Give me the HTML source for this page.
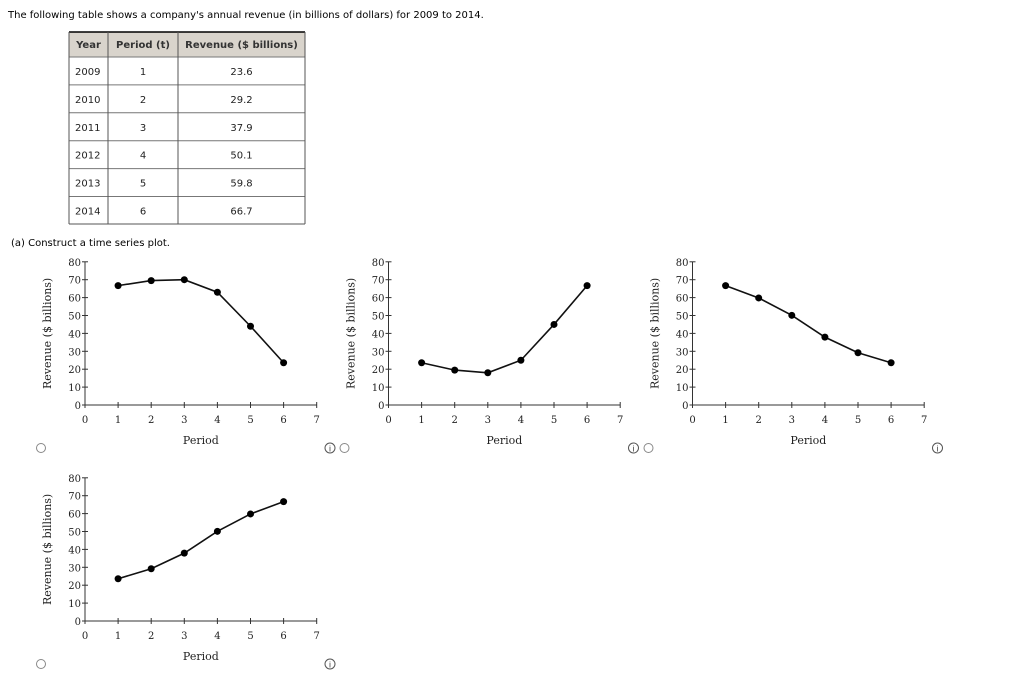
<!DOCTYPE html>
<html><head><meta charset="utf-8"><style>
body{margin:0;width:1024px;height:685px;background:#fff;overflow:hidden;font-family:Verdana,"DejaVu Sans",sans-serif;}
svg{position:absolute;left:0;top:0}
</style></head><body>
<svg id="s" width="1024" height="685" font-family="'DejaVu Sans',Verdana,sans-serif">
<text x="8" y="18" font-size="10" fill="#000">The following table shows a company's annual revenue (in billions of dollars) for 2009 to 2014.</text>
<g id="tbl"></g>
<text x="11" y="246" font-size="10">(a)  Construct a time series plot.</text>
<g id="charts"></g>
</svg>
<script>
const years=["2009","2010","2011","2012","2013","2014"];
const periods=[1,2,3,4,5,6];
const revenue=["23.6","29.2","37.9","50.1","59.8","66.7"];
const optA=[66.7,69.5,70,63,44,23.6];
const optB=[23.6,19.5,18,25,45,66.7];
const optC=[66.7,59.8,50.1,37.9,29.2,23.6];
const optD=[23.6,29.2,37.9,50.1,59.8,66.7];
const xTicks=[0,1,2,3,4,5,6,7];
const yTicks=[0,10,20,30,40,50,60,70,80];
const NS="http://www.w3.org/2000/svg";
const SERIF="'DejaVu Serif','Liberation Serif',serif";
function mk(p,t,a){const e=document.createElementNS(NS,t);for(const k in a)e.setAttribute(k,a[k]);p.appendChild(e);return e;}
const tb=document.getElementById('tbl');
const cx=[69,108,178,305];
const hr=mk(tb,'rect',{x:69,y:32,width:236,height:25,fill:'#d9d4cc'});


mk(tb,'line',{x1:69,y1:32,x2:305,y2:32,stroke:'#000','stroke-width':1.5});
const hd=["Year","Period (t)","Revenue ($ billions)"];
hd.forEach((h,i)=>{const t=mk(tb,'text',{x:(cx[i]+cx[i+1])/2,y:48,'font-size':10,'font-weight':'bold','text-anchor':'middle',fill:'#333'});t.textContent=h;

});
for(let r=0;r<6;r++){const y0=57+r*27.9;
 mk(tb,'line',{x1:69,y1:y0,x2:305,y2:y0,stroke:'#777'});
 const vals=[years[r],String(periods[r]),revenue[r]];
 vals.forEach((v,i)=>{const t=mk(tb,'text',{x:i==0?75:(cx[i]+cx[i+1])/2,y:y0+18,'font-size':10,'text-anchor':i==0?'start':'middle',fill:'#222'});t.textContent=v;
 
 });}
mk(tb,'line',{x1:69,y1:224,x2:305,y2:224,stroke:'#555'});
cx.forEach(x=>mk(tb,'line',{x1:x,y1:32,x2:x,y2:224,stroke:'#555'}));
const cg=document.getElementById('charts');
function chart(data,ox,oy,name){
 const g=mk(cg,'g',{});
 
 
 const X=v=>ox+v*33.1, Y=v=>oy-v*1.79;
 mk(g,'line',{x1:X(0),y1:Y(0),x2:X(7),y2:Y(0),stroke:'#333'});
 mk(g,'line',{x1:X(0),y1:Y(0),x2:X(0),y2:Y(80),stroke:'#333'});
 xTicks.forEach(v=>{mk(g,'line',{x1:X(v),y1:Y(0)-3,x2:X(v),y2:Y(0)+3,stroke:'#333'});
  const t=mk(g,'text',{x:X(v),y:Y(0)+18,'font-size':10,'text-anchor':'middle','font-family':SERIF,fill:'#222'});t.textContent=v;
  
  });
 yTicks.forEach(v=>{mk(g,'line',{x1:X(0)-3,y1:Y(v),x2:X(0)+3,y2:Y(v),stroke:'#333'});
  const t=mk(g,'text',{x:X(0)-4,y:Y(v)+4,'font-size':10,'text-anchor':'end','font-family':SERIF,fill:'#222'});t.textContent=v;
  
  });
 const xt=mk(g,'text',{x:X(3.5),y:Y(0)+39,'font-size':11,'text-anchor':'middle','font-family':SERIF,fill:'#222'});xt.textContent='Period';
 
 
 const yt=mk(g,'text',{x:0,y:0,'font-size':11,'text-anchor':'middle','font-family':SERIF,fill:'#222',transform:`translate(${ox-34},${Y(40)}) rotate(-90)`});yt.textContent='Revenue ($ billions)';
 
 
 const pts=data.map((d,i)=>X(periods[i])+','+Y(d)).join(' ');
 const pl=mk(g,'polyline',{points:pts,fill:'none',stroke:'#111','stroke-width':1.6});
 
 
 data.forEach((d,i)=>{const c=mk(g,'circle',{cx:X(periods[i]),cy:Y(d),r:3.5,fill:'#000'});
  
  });
 const rad=mk(g,'circle',{cx:ox-44,cy:oy+43,r:4.5,fill:'#fff',stroke:'#888'});
 
 
 const ic=mk(g,'circle',{cx:ox+245,cy:oy+43,r:5,fill:'#fff',stroke:'#555'});
 
 
 const it=mk(g,'text',{x:ox+245,y:oy+46.5,'font-size':8,'text-anchor':'middle',fill:'#333'});it.textContent='i';
}
chart(optA,85,405,'chart-option-a');
chart(optB,388.5,405,'chart-option-b');
chart(optC,692.5,405,'chart-option-c');
chart(optD,85,621,'chart-option-d');
</script>
</body></html>
